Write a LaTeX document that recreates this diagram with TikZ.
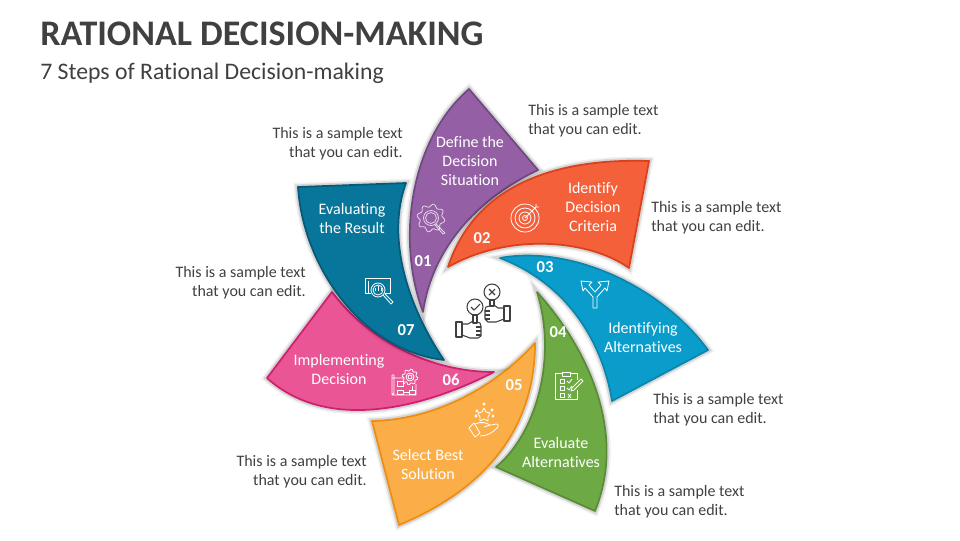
\documentclass[tikz,border=0pt]{standalone}
\usepackage{fontspec}
\setmainfont[Ligatures=NoCommon]{Carlito}
\definecolor{inktext}{HTML}{404040}
\definecolor{purplepetal}{HTML}{955FA5}
\definecolor{purplepetaledge}{HTML}{6F4A80}
\definecolor{redpetal}{HTML}{F4603A}
\definecolor{redpetaledge}{HTML}{D9401B}
\definecolor{bluepetal}{HTML}{0A9DCB}
\definecolor{bluepetaledge}{HTML}{0A86AD}
\definecolor{greenpetal}{HTML}{6DAA44}
\definecolor{greenpetaledge}{HTML}{5A8A3A}
\definecolor{yellowpetal}{HTML}{FBAE48}
\definecolor{yellowpetaledge}{HTML}{EE8E10}
\definecolor{pinkpetal}{HTML}{EA5595}
\definecolor{pinkpetaledge}{HTML}{CF2070}
\definecolor{tealpetal}{HTML}{08769A}
\definecolor{tealpetaledge}{HTML}{055A78}
\tikzset{
  petal/.style={fill=#1,draw=#1edge,line width=1.3pt,line join=round,
    preaction={draw=black,opacity=.05,line width=6.5pt},
    preaction={draw=black,opacity=.12,line width=4pt}},
  steplabel/.style={text=white,align=center,inner sep=0pt,font=\fontsize{12}{14.25}\selectfont},
  stepnum/.style={text=white,inner sep=0pt,font=\fontsize{12.5}{14}\selectfont\bfseries},
  note/.style={text=inktext,inner sep=0pt,font=\fontsize{12}{14.25}\selectfont},
  icon/.style={draw=white,line width=.6pt,line join=round},
  inkicon/.style={draw=inktext,line width=.8pt,line join=round}
}
\begin{document}
\begin{tikzpicture}[x=.75pt,y=-.75pt]
\useasboundingbox (0,0) rectangle (960,540);

\node[anchor=west,inner sep=0pt,text=inktext,font=\fontsize{27}{30}\selectfont\bfseries] (title) at (40,34) {RATIONAL DECISION-MAKING};
\node[anchor=west,inner sep=0pt,text=inktext,font=\fontsize{17.8}{20}\selectfont] (subtitle) at (40,73) {7 Steps of Rational Decision-making};

% petals
\draw[petal=purplepetal] (469,89) .. controls (410,140) and (396,240) .. (423,312)
  .. controls (432,250) and (475,200) .. (538,170) -- cycle;
\draw[petal=redpetal] (448,267) .. controls (475,185) and (555,158) .. (649,161)
  -- (629,268) .. controls (590,240) and (510,232) .. (448,267) -- cycle;
\draw[petal=bluepetal] (500,258) .. controls (570,245) and (660,285) .. (708,350)
  -- (612,401) .. controls (603,345) and (570,285) .. (500,258) -- cycle;
\draw[petal=greenpetal] (537,292) .. controls (585,345) and (628,430) .. (595,511)
  -- (496,467) .. controls (535,435) and (558,360) .. (537,292) -- cycle;
\draw[petal=yellowpetal] (372,421) .. controls (430,420) and (490,392) .. (535,343)
  .. controls (535,420) and (495,485) .. (399,525) -- cycle;
\draw[petal=pinkpetal] (332,292) .. controls (368,340) and (430,372) .. (494,372)
  .. controls (430,405) and (330,435) .. (267,378) -- cycle;
\draw[petal=tealpetal] (298,187) .. controls (303,265) and (360,350) .. (444,360)
  .. controls (410,310) and (385,240) .. (406,183) -- cycle;

% step labels
\node[steplabel] (define) at (470,161) {Define the\\Decision\\Situation};
\node[steplabel] (identify) at (593,207) {Identify\\Decision\\Criteria};
\node[steplabel] (identifying) at (643,337) {Identifying\\Alternatives};
\node[steplabel] (evaluate) at (561,452) {Evaluate\\Alternatives};
\node[steplabel] (select) at (428,464) {Select Best\\Solution};
\node[steplabel] (implementing) at (339,369) {Implementing\\Decision};
\node[steplabel] (evaluating) at (352,218) {Evaluating\\the Result};

\foreach \n/\x/\y in {01/423/261,02/482/238,03/545/267,04/558/332,05/514/385,06/451/380,07/406/330}
{
\node[stepnum] (num\n) at (\x,\y) {\n};
}

% notes beside the petals
\foreach \n/\x/\y/\a in {a/528/121/left,b/651/218/left,c/653/410/left,d/614/502/left}
{
\node[note,anchor=west,align=\a] (note\n) at (\x,\y) {This is a sample text\\that you can edit.};
}
\foreach \n/\x/\y/\a in {e/367/472/right,f/306/283/right,g/403/144/right}
{
\node[note,anchor=east,align=\a] (note\n) at (\x,\y) {This is a sample text\\that you can edit.};
}

% gear and lens
\begin{scope}[shift={(431,218)},opacity=.75]
\draw[icon] plot[domain=0:360,samples=121,smooth] ({12.5*(1+.12*sin(8*\x))*cos(\x)},{12.5*(1+.12*sin(8*\x))*sin(\x)});
\draw[icon] (0,0) circle (7.5) (0,0) circle (5.5);
\draw[icon] (5,6) -- (14,15) -- (12,16) -- (4,7);
\end{scope}

% target
\begin{scope}[shift={(525,218)}]
\foreach \r in {14,10,6,2.5}
{
\draw[icon] (0,0) circle (\r);
}
\draw[icon] (0,0) -- (11,-11) (11,-11) -- (11,-14) (11,-11) -- (14,-11);
\end{scope}

% fork
\draw[icon] (593,308) -- (593,297) -- (585,288) -- (583,291) -- (581,281) -- (592,282) -- (589,285) -- (595,292)
  -- (601,285) -- (598,282) -- (609,281) -- (607,291) -- (605,288) -- (597,297) -- (597,308) -- cycle;

% clipboard
\draw[icon] (562,373) -- (555,373) -- (555,399) -- (577,399) -- (577,390) (577,380) -- (577,373) -- (570,373);
\draw[icon] (562,372) rectangle (570,376);
\foreach \y in {379,386,393}
{
\draw[icon] (560,\y) rectangle (564,\y+4);
}
\draw[icon] (567,381) -- (569,383) -- (572,379) (567,388) -- (569,390) -- (572,386) (568,394) -- (571,398) (571,394) -- (568,398);
\draw[icon] (572,388) -- (581,379) -- (583,381) -- (574,390) -- (571,391) -- cycle;

% hand and star
\draw[icon] (469,428) -- (474,423) -- (480,433) -- (475,437) -- cycle;
\draw[icon] (475,424) .. controls (481,421) and (487,423) .. (490,425) -- (484,427) (486,426) -- (496,424) .. controls (499,424) and (499,427) .. (497,428) .. controls (492,433) and (487,436) .. (480,436);
\draw[icon] (484,408) -- (486,412) -- (490,413) -- (488,417) -- (488,421) -- (484,419) -- (480,421) -- (480,417) -- (478,413) -- (482,412) -- cycle;
\foreach \x/\y in {477/411,476/416,492/410,493/416,484/404}
{
\draw[icon] (\x,\y) circle (1.2);
}

% plan and gear
\draw[icon] (392,375) -- (392,395) -- (416,395) -- (416,384) (392,378) -- (403,378) (392,375) -- (394,375) -- (394,393) -- (392,395);
\draw[icon] (397,381) rectangle (403,386) (397,390) rectangle (403,394) (409,390) rectangle (415,394);
\draw[icon] (403,392) -- (409,392) (412,390) -- (412,386) (403,383) -- (405,383);
\begin{scope}[shift={(410,377)}]
\draw[icon] plot[domain=0:360,samples=121,smooth] ({7*(1+.14*sin(8*\x))*cos(\x)},{7*(1+.14*sin(8*\x))*sin(\x)});
\draw[icon] (0,0) circle (4) (0,0) circle (2);
\end{scope}

% chart and lens
\draw[icon] (371,293) -- (365,293) -- (365,278) -- (390,278) -- (390,293) -- (385,293);
\draw[icon] (368,281) -- (368,293);
\draw[icon] (378,290) circle (7) (378,290) circle (5);
\draw[icon] (375,291) -- (375,288) (378,291) -- (378,286) (381,291) -- (381,288);
\draw[icon] (383,295) -- (391,304) -- (393,302) -- (385,294);

% hands in the middle
\draw[inkicon] (492,292) circle (8) (475,307) circle (8);
\draw[inkicon] (489,289) -- (495,295) (495,289) -- (489,295);
\draw[inkicon] (471,307) -- (474,310) -- (480,304);
\draw[inkicon] (490,300) rectangle (494,306) (473,315) rectangle (477,323);
\draw[inkicon] (456,322) rectangle (462,337) (504,306) rectangle (510,321);
\draw[inkicon] (462,324) -- (468,324) -- (473,321) (477,322) -- (480,323) -- (481,326) -- (481,336) -- (478,338) -- (470,338) -- (462,335);
\draw[inkicon] (476,327) -- (481,327) (476,331) -- (481,331) (476,335) -- (481,335);
\draw[inkicon] (504,308) -- (498,308) -- (494,305) (490,306) -- (486,307) -- (485,310) -- (485,319) -- (488,322) -- (496,322) -- (504,319);
\draw[inkicon] (485,311) -- (490,311) (485,315) -- (490,315) (485,319) -- (490,319);

\end{tikzpicture}
\end{document}
